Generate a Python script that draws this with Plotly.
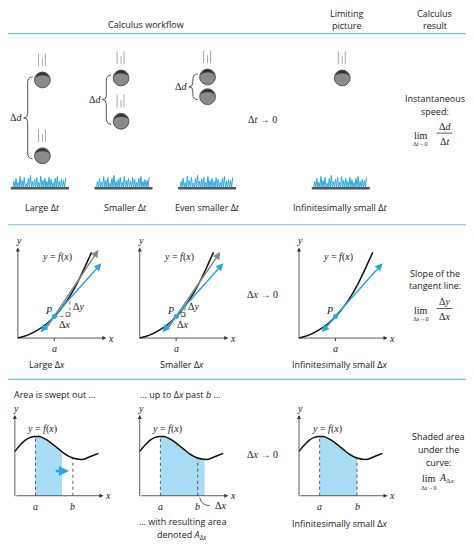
import plotly.graph_objects as go
import numpy as np

# ---- data ----
row1_labels = ["Large Δ<i>t</i>", "Smaller Δ<i>t</i>", "Even smaller Δ<i>t</i>", "Infinitesimally small Δ<i>t</i>"]
row2_labels = ["Large Δ<i>x</i>", "Smaller Δ<i>x</i>", "Infinitesimally small Δ<i>x</i>"]
# apple drop gaps (pixels between positions) per panel
apple_gaps = [77, 44, 20]
# convex curve y=f(x), row 2 (dx, height)
conv_dx = [0, 10, 20, 30, 40, 50, 60, 70, 75]
conv_h = [0, 3, 8, 15, 25, 38, 55, 76, 87]
# secant run lengths (Δx) for row-2 panels
secant_dx = [16, 9]
# wave curve, row 3
wave_dx = [0, 5, 10, 15, 20, 25, 30, 35, 40, 45, 50, 55, 60, 65, 70, 75, 80, 85]
wave_h = [45, 51, 56, 59, 60, 60, 58, 55, 51, 47, 43, 40, 38, 37, 37, 39, 41, 43]
shade_end = [48, 66, 59]  # shaded area right edge (dx)
# grass spike heights
grass_h = [6, 9, 5, 11, 7, 10, 4, 9, 12, 6, 8, 10, 5, 11, 7, 9, 6, 10, 8, 5, 9, 11, 6, 8, 7, 10]

SANS = "Open Sans"
SERIF = "Liberation Serif"
BLUE = "#29a8e0"
LBLUE = "#a8dcf5"
fig = go.Figure()
shapes, ann = [], []

def text(x, y, t, size=9, font=SANS, **kw):
    ann.append(dict(x=x, y=y, text=t, showarrow=False, font=dict(family=font, size=size, color="#222"), **kw))

def line(x0, y0, x1, y1, color="#333", w=1, dash=None):
    shapes.append(dict(type="line", x0=x0, y0=y0, x1=x1, y1=y1, line=dict(color=color, width=w, dash=dash)))

def arrow(x0, y0, x1, y1, color="#333", w=1, head=2, size=1):
    ann.append(dict(x=x1, y=y1, ax=x0, ay=y0, xref="x", yref="y", axref="x", ayref="y", text="",
                    showarrow=True, arrowhead=head, arrowwidth=w, arrowcolor=color, arrowsize=size))

def fraction(x, y, num, den, sub):
    text(x - 12, y + 2, "lim", 10, SERIF)
    text(x - 12, y + 11, sub, 6, SERIF)
    text(x + 12, y - 7, num, 10, SERIF)
    line(x + 4, y, x + 20, y, "#333", 0.8)
    text(x + 12, y + 8, den, 10, SERIF)

RX = 434
# header
text(140, 17, "Calculus workflow")
text(345, 6, "Limiting")
text(345, 18, "picture")
text(RX, 6, "Calculus")
text(RX, 18, "result")
for yy in [26, 220, 377]:
    line(0, yy, 474, yy, "#6cc4ec", 1.2)

# row 1: apples
def apple(cx, cy):
    shapes.append(dict(type="circle", x0=cx - 8, x1=cx + 8, y0=cy - 8, y1=cy + 8,
                       fillcolor="#8a8a8a", line=dict(color="#555", width=1)))
    shapes.append(dict(type="path", path=f"M {cx-7},{cy-3} Q {cx},{cy-12} {cx+7},{cy-3} Q {cx},{cy-7} {cx-7},{cy-3} Z",
                       fillcolor="#333", line=dict(color="#333", width=0.5)))
    for i, dx in enumerate([-4, 0, 3]):
        line(cx + dx, cy - 27 + (5 if i == 1 else 0), cx + dx, cy - 14, "#aaa", 1)

def brace(x, y0, y1):
    m = (y0 + y1) / 2
    shapes.append(dict(type="path", path=f"M {x+5},{y0} Q {x},{y0} {x},{y0+6} L {x},{m-4} Q {x},{m} {x-4},{m} Q {x},{m} {x},{m+4} L {x},{y1-6} Q {x},{y1} {x+5},{y1}",
                       line=dict(color="#555", width=1)))

row1_x = [35, 115, 203]
top_y = [73, 71, 70]
for i in range(3):
    cx, ty = row1_x[i], top_y[i]
    apple(cx, ty + apple_gaps[i])
    apple(cx, ty)
    brace(cx - 15, ty - 3, ty + apple_gaps[i] + 3)
    text(cx - 27, ty + apple_gaps[i] / 2, "Δ<i>d</i>", 10, SERIF)
apple(340, 71)
text(259, 113, "Δ<i>t</i> → 0", 10, SERIF)
text(RX, 92, "Instantaneous")
text(RX, 105, "speed:")
fraction(RX - 2, 127, "Δ<i>d</i>", "Δ<i>t</i>", "Δ<i>t</i>→0")

# grass
for gx in [32, 117, 202, 338]:
    x0 = gx - 27
    line(x0 - 2, 183, x0 + 57, 183, "#555", 2.5)
    xs, ys = [], []
    for k, h in enumerate(grass_h):
        xs += [x0 + k * 2.1, x0 + k * 2.1 + 1.05]
        ys += [182, 182 - h]
    fig.add_trace(go.Scatter(x=xs, y=ys, mode="lines", line=dict(color=BLUE, width=1), hoverinfo="skip"))
for x, t in zip([35, 120, 203, 338], row1_labels):
    text(x, 202, t)

# row 2
def axes(ox, oy, w, h):
    arrow(ox, oy, ox + w, oy, "#333", 0.8, 2, 1)
    arrow(ox, oy + 2, ox, oy - h, "#333", 0.8, 2, 1)
    text(ox + 1, oy - h - 7, "<i>y</i>", 10, SERIF)
    text(ox + w + 5, oy, "<i>x</i>", 10, SERIF)

r2_ox = [10, 134, 296]
for i, ox in enumerate(r2_ox):
    oy = 335
    axes(ox, oy, 90, 92)
    fig.add_trace(go.Scatter(x=[ox + d for d in conv_dx], y=[oy - h for h in conv_h], mode="lines",
                             line=dict(color="#111", width=1.5, shape="spline"), hoverinfo="skip"))
    text(ox + 40, 253, "<i>y</i> = <i>f</i>(<i>x</i>)", 10, SERIF)
    px, py = ox + 37, oy - 22
    line(px, oy, px, oy + 3)
    text(px, 346, "<i>a</i>", 10, SERIF)
    if i < 2:
        sdx = secant_dx[i]
        sdy = sdx * (1.4 + 0.1 * (sdx / 16))
        slope = sdy / sdx
        arrow(px - 10, py + 10 * slope, px + 45, py - 45 * slope, "#888", 1.5, 2, 1)
        line(px, py, px + sdx, py, "#555", 0.8, "dot")
        line(px + sdx, py, px + sdx, py - sdy, "#555", 0.8, "dot")
        shapes.append(dict(type="rect", x0=px + sdx - 4, x1=px + sdx, y0=py - 4, y1=py, line=dict(color="#555", width=0.7)))
        text(px + sdx / 2 + 2, py + 8, "Δ<i>x</i>", 10, SERIF)
        text(px + sdx + 9, py - 10, "Δ<i>y</i>", 10, SERIF)
    arrow(px + 3, py - 3, px - 14, py + 16, BLUE, 1.5, 2, 1)
    arrow(px - 3, py + 3, px + 48, py - 54, BLUE, 1.5, 2, 1)
    fig.add_trace(go.Scatter(x=[px], y=[py], mode="markers", marker=dict(color=BLUE, size=5), hoverinfo="skip"))
    text(px - 6, py - 6, "<i>P</i>", 10, SERIF)
for x, t in zip([40, 177, 337], row2_labels):
    text(x, 362, t)
text(259, 291, "Δ<i>x</i> → 0", 10, SERIF)
text(RX, 269, "Slope of the")
text(RX, 282, "tangent line:")
fraction(RX - 2, 305, "Δ<i>y</i>", "Δ<i>x</i>", "Δ<i>x</i>→0")

# row 3
r3_ox = [7, 134, 296]
for i, ox in enumerate(r3_ox):
    oy = 495
    a, b = ox + 21, ox + 59
    se = ox + shade_end[i]
    xs = [ox + d for d in wave_dx]
    ys = [oy - h for h in wave_h]
    sx = [x for x in xs if a < x < se]
    sy = [y for x, y in zip(xs, ys) if a < x < se]
    sx = [a] + sx + [se]
    sy = [float(np.interp(a, xs, ys))] + sy + [float(np.interp(se, xs, ys))]
    fig.add_trace(go.Scatter(x=sx + [se, a], y=sy + [oy, oy], fill="toself", fillcolor=LBLUE, mode="none", hoverinfo="skip"))
    fig.add_trace(go.Scatter(x=xs, y=ys, mode="lines", line=dict(color="#111", width=1.5, shape="spline"), hoverinfo="skip"))
    axes(ox, oy, 90, 82)
    line(a, oy, a, float(np.interp(a, xs, ys)), "#333", 0.8, "dot")
    line(b, oy, b, float(np.interp(b, xs, ys)), "#333", 0.8, "dot")
    text(a, 506, "<i>a</i>", 10, SERIF)
    text(b, 506, "<i>b</i>", 10, SERIF)
    text(ox + 28, 427, "<i>y</i> = <i>f</i>(<i>x</i>)", 10, SERIF)
arrow(47, 470, 62, 470, BLUE, 2.5, 2, 0.8)
shapes.append(dict(type="path", path="M 195,497 Q 197,505 205,505", line=dict(color="#333", width=0.8)))
text(216, 505, "Δ<i>x</i>", 10, SERIF)
text(48, 392, "Area is swept out …")
text(175, 392, "… up to Δ<i>x</i> past <i>b</i> …")
text(177, 521, "… with resulting area")
text(177, 535, "denoted <i>A</i><sub>Δ<i>x</i></sub>")
text(337, 523, "Infinitesimally small Δ<i>x</i>")
text(259, 453, "Δ<i>x</i> → 0", 10, SERIF)
text(RX + 4, 435, "Shaded area")
text(RX + 4, 448, "under the")
text(RX + 4, 461, "curve:")
text(428, 478, "lim", 10, SERIF)
text(428, 487, "Δ<i>x</i>→0", 6, SERIF)
text(447, 478, "<i>A</i><sub>Δ<i>x</i></sub>", 10, SERIF)

# the page body adds an 8px margin, so the figure is sized to fit the remaining window
fig.update_layout(width=466, height=536, margin=dict(l=0, r=0, t=0, b=0), showlegend=False,
                  plot_bgcolor="white", paper_bgcolor="white", shapes=shapes, annotations=ann,
                  xaxis=dict(range=[0, 474], visible=False, fixedrange=True),
                  yaxis=dict(range=[544, 0], visible=False, fixedrange=True))
fig.write_html("out.html")
